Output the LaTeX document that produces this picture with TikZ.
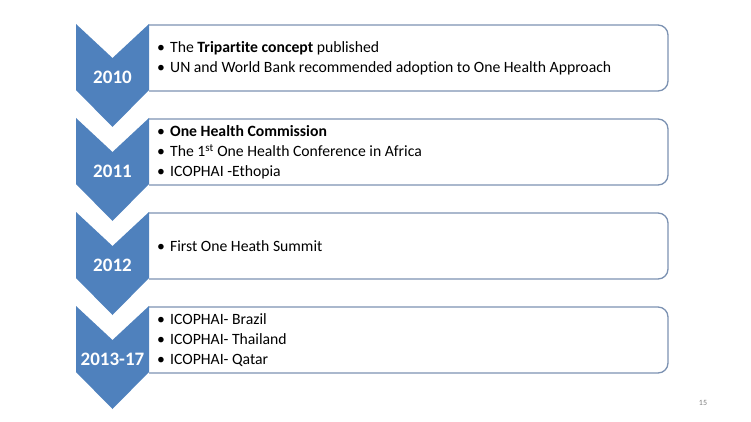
\documentclass[tikz,border=0pt]{standalone}
\usepackage{fontspec}
\setmainfont{Carlito}[Ligatures=NoCommon]
\usetikzlibrary{calc}
\definecolor{chevblue}{RGB}{79,129,189}
\definecolor{boxline}{RGB}{124,146,178}
\newcommand{\itm}{\makebox[13pt][l]{\textbullet}}

\begin{document}
\begin{tikzpicture}[x=1pt,y=1pt]
	\tikzset{chev/.style={fill=chevblue},
		frame/.style={draw=boxline,line width=1.3pt,rounded corners=10pt},
		year/.style={text=white,font=\fontsize{19}{22}\selectfont\bfseries},
		items/.style={anchor=west,align=left,inner sep=0pt,font=\fontsize{15.7}{20}\selectfont}}
	\useasboundingbox (0,0) rectangle (751,-422);
	\coordinate (r1) at (76,-24);
	\coordinate (r2) at (76,-118);
	\coordinate (r3) at (76,-212);
	\coordinate (r4) at (76,-306);
	\foreach \r in {r1,r2,r3,r4}{
		\draw[frame] ($(\r)+(73,-1)$) -- ++(519,0) -- ++(0,-66) -- ++(-519,0);
		\fill[chev] (\r) -- ++(36.5,-34) -- ++(36.5,34) -- ++(0,-66) -- ++(-36.5,-37) -- ++(-36.5,37) -- cycle;
	}
	\node[year] (y2010) at ($(r1)+(36.5,-53)$) {2010};
	\node[year] (y2011) at ($(r2)+(36.5,-53)$) {2011};
	\node[year] (y2012) at ($(r3)+(36.5,-53)$) {2012};
	\node[year] (y2013) at ($(r4)+(36.5,-53)$) {2013-17};
	\node[items] (t2010) at ($(r1)+(81,-34)$) {\itm The \textbf{Tripartite concept} published\\
		\itm UN and World Bank recommended adoption to One Health Approach};
	\node[items] (t2011) at ($(r2)+(81,-34)$) {\itm \textbf{One Health Commission}\\
		\itm The 1\textsuperscript{st} One Health Conference in Africa\\
		\itm ICOPHAI -Ethopia};
	\node[items] (t2012) at ($(r3)+(81,-34)$) {\itm First One Heath Summit};
	\node[items] (t2013) at ($(r4)+(81,-34)$) {\itm ICOPHAI- Brazil\\
		\itm ICOPHAI- Thailand\\
		\itm ICOPHAI- Qatar};
	\node[text=gray,font=\fontsize{8}{9}\selectfont] (pnum) at (703,-403) {15};
\end{tikzpicture}
\end{document}
